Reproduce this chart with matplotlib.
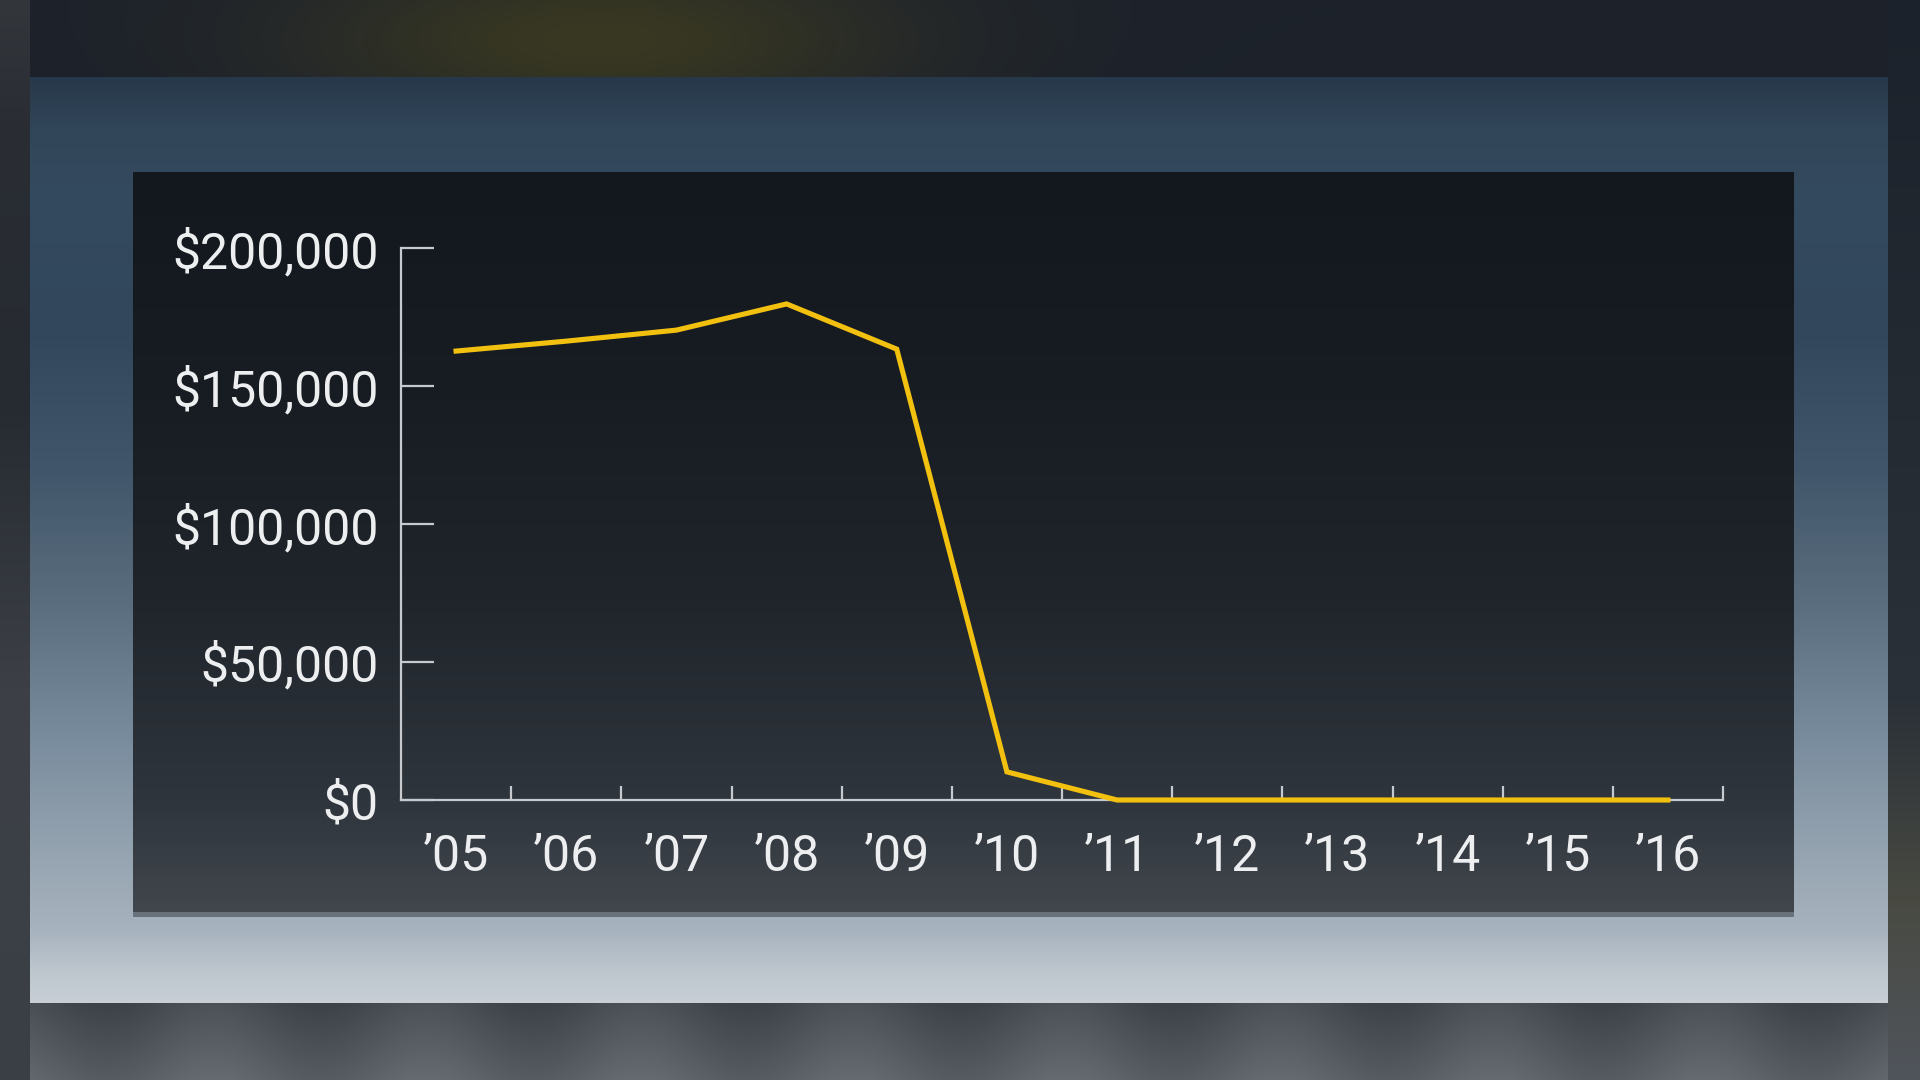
import numpy as np
import matplotlib
matplotlib.use("Agg")
import matplotlib.pyplot as plt
from matplotlib.colors import to_rgb
from matplotlib.ticker import FixedLocator, NullFormatter

years = ["’05", "’06", "’07", "’08", "’09", "’10",
         "’11", "’12", "’13", "’14", "’15", "’16"]
values = [162800, 166400, 170400, 179900, 163500, 10200,
          0, 0, 0, 0, 0, 0]
ytick_vals = [0, 50000, 100000, 150000, 200000]
ytick_labels = ["$0", "$50,000", "$100,000", "$150,000", "$200,000"]

W, H = 1920, 1080


def vgrad(stops, n=H):
    ys = [s[0] for s in stops]
    cols = np.array([to_rgb(s[1]) for s in stops])
    rows = np.arange(n)
    return np.stack([np.interp(rows, ys, cols[:, i]) for i in range(3)], axis=1)


# blurred backdrop
img = np.zeros((H, W, 3))
img[:] = vgrad([(0, "#1d222b"), (240, "#1b212a"), (1000, "#3c4148"),
                (1080, "#575c63")])[:, None, :]
yy, xx = np.mgrid[0:H, 0:W]
glow = np.exp(-((xx - 600) / 300.0) ** 2 - ((yy - 40) / 90.0) ** 2)
img += glow[..., None] * (np.array(to_rgb("#393822")) - np.array(to_rgb("#1d222b")))
stripes = 0.5 + 0.5 * np.cos(xx / 1920 * 2 * np.pi * 9)
img[1003:] += (stripes[1003:, :, None] * 0.06)
img[:, :30] = vgrad([(0, "#33373c"), (120, "#2a2e34"), (400, "#262b31"),
                     (700, "#3d4147"), (1080, "#3a3f46")])[:, None, :]
img[:, 1888:] = vgrad([(0, "#1c222b"), (700, "#2b3138"), (900, "#484a42"),
                       (1080, "#50555c")])[:, None, :]

# outer light panel
outer = vgrad([(77, "#27384a"), (130, "#324659"), (200, "#344a5e"),
               (330, "#32475b"), (470, "#41566a"), (600, "#5a6d7e"),
               (720, "#74889a"), (820, "#8e9dab"), (930, "#a7b3be"),
               (975, "#c0c8cf"), (1003, "#c8cfd6")])
img[77:1003, 30:1888] = outer[77:1003][:, None, :]

# inner dark panel
inner = vgrad([(172, "#13171e"), (400, "#181d24"), (600, "#20252c"),
               (800, "#2f353c"), (912, "#42474e")])
img[172:912, 133:1794] = inner[172:912][:, None, :]
img[912:917, 133:1794] = to_rgb("#69717a")

img = np.clip(img, 0, 1)

fig = plt.figure(figsize=(19.2, 10.8), dpi=100)
bg = fig.add_axes([0, 0, 1, 1], zorder=0)
bg.imshow(img, aspect="auto", interpolation="bilinear")
bg.axis("off")

ax = fig.add_axes([401 / W, 1 - 800 / H, (1723 - 401) / W, (800 - 248.5) / H], zorder=1)
ax.patch.set_alpha(0)

x = np.arange(len(years))
ax.plot(x, values, color="#f2c00e", lw=3.7, solid_joinstyle="miter",
        clip_on=False, zorder=5)

ax.set_xlim(-0.5, len(years) - 0.5)
ax.set_ylim(0, 200000)

for side in ["top", "right"]:
    ax.spines[side].set_visible(False)
for side in ["left", "bottom"]:
    ax.spines[side].set_color("#c6cacf")
    ax.spines[side].set_linewidth(1.6)

label_color = "#eceef0"
font = ["Roboto", "DejaVu Sans"]

ax.set_yticks(ytick_vals)
ax.set_yticklabels(ytick_labels, family=font, fontsize=36, color=label_color)
ax.tick_params(axis="y", direction="in", length=24, width=1.6,
               color="#c6cacf", pad=16)

ax.set_xticks(x)
ax.set_xticklabels(years, family=font, fontsize=36, color=label_color)
ax.tick_params(axis="x", which="major", length=0, pad=24)
ax.xaxis.set_minor_locator(FixedLocator(x + 0.5))
ax.xaxis.set_minor_formatter(NullFormatter())
ax.tick_params(axis="x", which="minor", direction="in", length=10,
               width=1.6, color="#c6cacf")

fig.savefig("out.png", dpi=100)
